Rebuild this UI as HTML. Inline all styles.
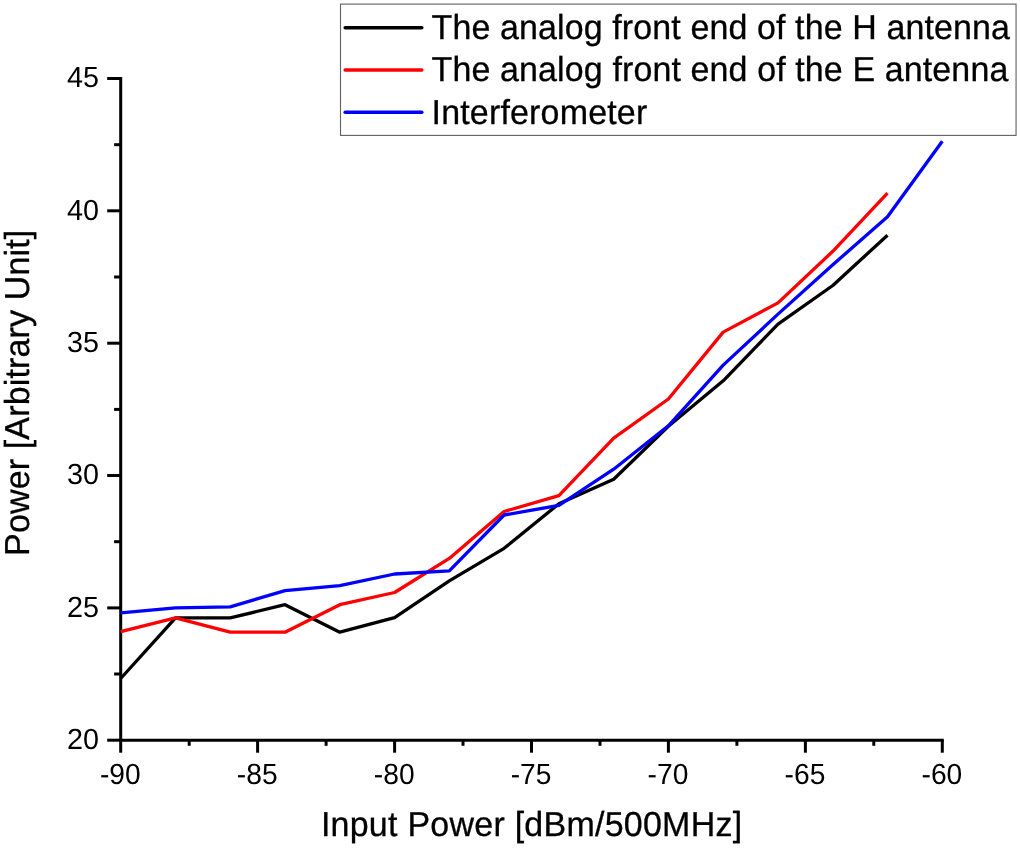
<!DOCTYPE html>
<html lang="en">
<head>
<meta charset="utf-8">
<title>Power vs Input Power</title>
<style>
html,body{margin:0;padding:0;background:#fff;}
body{width:1020px;height:848px;overflow:hidden;font-family:"Liberation Sans",Arial,sans-serif;}
svg{display:block;}
</style>
</head>
<body>
<svg width="1020" height="848" viewBox="0 0 1020 848">
<rect width="1020" height="848" fill="#fff"/>
<g stroke="#000" stroke-width="3" fill="none" stroke-linecap="butt">
<path d="M120.7 77.0V741.7"/>
<path d="M119.2 740.2H943.8"/>
<path d="M120.7 740.2v12.5"/>
<path d="M257.6 740.2v12.5"/>
<path d="M394.6 740.2v12.5"/>
<path d="M531.5 740.2v12.5"/>
<path d="M668.4 740.2v12.5"/>
<path d="M805.4 740.2v12.5"/>
<path d="M942.3 740.2v12.5"/>
<path d="M189.2 740.2v5.6"/>
<path d="M326.1 740.2v5.6"/>
<path d="M463.0 740.2v5.6"/>
<path d="M600.0 740.2v5.6"/>
<path d="M736.9 740.2v5.6"/>
<path d="M873.8 740.2v5.6"/>
<path d="M120.7 740.2h-13.5"/>
<path d="M120.7 607.9h-13.5"/>
<path d="M120.7 475.5h-13.5"/>
<path d="M120.7 343.2h-13.5"/>
<path d="M120.7 210.8h-13.5"/>
<path d="M120.7 78.5h-13.5"/>
<path d="M120.7 674.0h-6.6"/>
<path d="M120.7 541.7h-6.6"/>
<path d="M120.7 409.4h-6.6"/>
<path d="M120.7 277.0h-6.6"/>
<path d="M120.7 144.7h-6.6"/>
</g>
<g fill="none" stroke-width="3.3" stroke-linejoin="round" stroke-linecap="butt">
<polyline stroke="#000" points="120.7,678.5 175.5,617.9 230.2,617.9 285.0,604.7 339.8,632.2 394.6,617.7 449.3,580.9 504.1,548.3 558.9,503.8 613.7,479.2 668.4,426.3 723.2,380.8 778.0,324.1 832.8,285.5 887.5,235.2"/>
<polyline stroke="#f00" points="120.7,631.7 175.5,617.9 230.2,632.2 285.0,632.2 339.8,604.7 394.6,592.5 449.3,558.4 504.1,511.5 558.9,495.6 613.7,438.2 668.4,399.0 723.2,332.1 778.0,302.9 832.8,251.3 887.5,193.1"/>
<polyline stroke="#00f" points="120.7,612.9 175.5,607.9 230.2,606.8 285.0,590.7 339.8,585.6 394.6,574.0 449.3,570.8 504.1,515.0 558.9,505.4 613.7,469.2 668.4,425.8 723.2,365.1 778.0,314.1 832.8,264.8 887.5,216.7 942.3,141.2"/>
</g>
<g font-family="'Liberation Sans', Arial, sans-serif" font-size="29.2" text-rendering="geometricPrecision" fill="#000">
<text transform="translate(120.3 784) scale(0.966 1)" text-anchor="middle">-90</text>
<text transform="translate(257.2 784) scale(0.966 1)" text-anchor="middle">-85</text>
<text transform="translate(394.2 784) scale(0.966 1)" text-anchor="middle">-80</text>
<text transform="translate(531.1 784) scale(0.966 1)" text-anchor="middle">-75</text>
<text transform="translate(668.0 784) scale(0.966 1)" text-anchor="middle">-70</text>
<text transform="translate(805.0 784) scale(0.966 1)" text-anchor="middle">-65</text>
<text transform="translate(941.9 784) scale(0.966 1)" text-anchor="middle">-60</text>
<text transform="translate(99 749.0) scale(0.985 1)" text-anchor="end">20</text>
<text transform="translate(99 616.6) scale(0.985 1)" text-anchor="end">25</text>
<text transform="translate(99 484.3) scale(0.985 1)" text-anchor="end">30</text>
<text transform="translate(99 351.9) scale(0.985 1)" text-anchor="end">35</text>
<text transform="translate(99 219.6) scale(0.985 1)" text-anchor="end">40</text>
<text transform="translate(99 87.2) scale(0.985 1)" text-anchor="end">45</text>
</g>
<g font-family="'Liberation Sans', Arial, sans-serif" font-size="34.7" text-rendering="geometricPrecision" fill="#000" stroke="#000" stroke-width="0.3">
<text transform="translate(320.9 836.2) scale(0.9798 1)" textLength="429.9" lengthAdjust="spacing">Input Power [dBm/500MHz]</text>
<text transform="translate(28.7 555.9) rotate(-90) scale(0.9798 1)" textLength="332.8" lengthAdjust="spacing">Power [Arbitrary Unit]</text>
</g>
<rect x="340.5" y="4.1" width="675.55" height="131.3" fill="#fff" stroke="#606060" stroke-width="1.1"/>
<g stroke-width="3.5" stroke-linecap="round" fill="none">
<path stroke="#000" d="M345.2 27.8H421.8"/>
<path stroke="#f00" d="M345.2 70.0H421.8"/>
<path stroke="#00f" d="M345.2 112.3H421.8"/>
</g>
<g font-family="'Liberation Sans', Arial, sans-serif" font-size="34.7" text-rendering="geometricPrecision" fill="#000" stroke="#000" stroke-width="0.3">
<text transform="translate(431.6 38.8) scale(0.9798 1)" textLength="590.3" lengthAdjust="spacing">The analog front end of the H antenna</text>
<text transform="translate(431.6 81.0) scale(0.9798 1)" textLength="588.6" lengthAdjust="spacing">The analog front end of the E antenna</text>
<text transform="translate(431.6 124.0) scale(0.9798 1)" textLength="220.1" lengthAdjust="spacing">Interferometer</text>
</g>
</svg>
</body>
</html>
